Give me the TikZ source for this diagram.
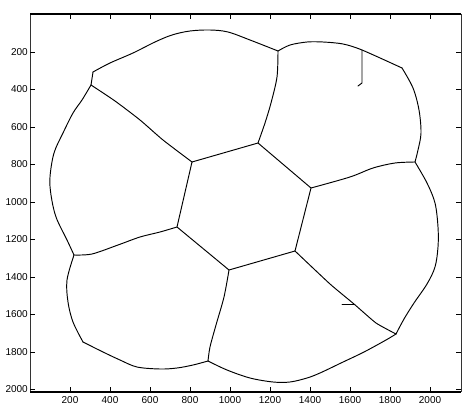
\documentclass[tikz,border=0pt]{standalone}
\usepackage{fontspec}
\setmainfont{Liberation Sans}
\begin{document}
\begin{tikzpicture}[x=1pt,y=-1pt,
  cell/.style={line width=0.95pt,black,line join=round,line cap=round},
  axthick/.style={line width=1.8pt,black},
  axthin/.style={line width=0.8pt,black!80},
  tickmark/.style={line width=0.8pt,black},
  ticklab/.style={font=\fontsize{10}{10}\selectfont,inner sep=0pt}]
\useasboundingbox[fill=white] (0,0) rectangle (474,414);
% axes box
\coordinate (TL) at (30,14);
\coordinate (TR) at (461,14);
\coordinate (BL) at (30,392);
\coordinate (BR) at (461,392);
\draw[axthin] (TL) -- (BL);
\draw[axthin] (TR) -- (BR);
\draw[axthick] (TL) -- (TR);
\draw[axthick] (BL) -- (BR);
% x ticks and labels
\foreach \k in {1,...,10}{
  \pgfmathsetmacro{\xx}{30+40*\k}
  \pgfmathtruncatemacro{\lab}{200*\k}
  \draw[tickmark] (\xx,14) -- (\xx,19);
  \draw[tickmark] (\xx,392) -- (\xx,387);
  \node[ticklab,anchor=north] (xl\k) at (\xx,396) {\lab};
}
% y ticks and labels
\foreach \k in {1,...,10}{
  \pgfmathsetmacro{\yy}{14.5+37.5*\k}
  \pgfmathtruncatemacro{\lab}{200*\k}
  \draw[tickmark] (30,\yy) -- (35,\yy);
  \draw[tickmark] (461,\yy) -- (456,\yy);
  \node[ticklab,anchor=east] (yl\k) at (28,\yy) {\lab};
}
% junctions
\coordinate (A) at (93,72);
\coordinate (Ap) at (91,85);
\coordinate (B) at (278,51);
\coordinate (K) at (402,68);
\coordinate (D) at (415,162);
\coordinate (F) at (396,334);
\coordinate (G) at (208,361);
\coordinate (I) at (74,255);
\coordinate (J) at (83,342);
\coordinate (H1) at (192,162);
\coordinate (H2) at (258,143);
\coordinate (H3) at (311,188);
\coordinate (H4) at (295,251);
\coordinate (H5) at (229,270);
\coordinate (H6) at (177,227);
\coordinate (S1) at (362,50);
\coordinate (S2) at (362,83);
\coordinate (S3) at (358,86);
\coordinate (S4) at (342,304);
\coordinate (S5) at (354,304);
% hexagon
\draw[cell] (H1) -- (H2) -- (H3) -- (H4) -- (H5) -- (H6) -- cycle;
% edges
\draw[cell] plot[smooth,tension=0.55] coordinates {(A) (110,63) (133,53) (155,42) (172,35) (190,31) (210,30) (228,32) (250,40) (B)};
\draw[cell] (A) -- (Ap);
\draw[cell] plot[smooth,tension=0.55] coordinates {(Ap) (82,100) (73,113) (63,133) (54,153) (50,177) (51,195) (56,217) (67,240) (I)};
\draw[cell] plot[smooth,tension=0.4] coordinates {(Ap) (115,101) (140,120) (163,140) (H1)};
\draw[cell] plot[smooth,tension=0.5] coordinates {(B) (277,77) (271,103) (265,123) (H2)};
\draw[cell] plot[smooth,tension=0.5] coordinates {(B) (290,45) (307,42) (323,42) (343,44) (S1) (K)};
\draw[cell] plot[smooth,tension=0.55] coordinates {(K) (413,88) (419,110) (421,133) (418,150) (D)};
\draw[cell] (S1) -- (S2) -- (S3);
\draw[cell] plot[smooth,tension=0.5] coordinates {(D) (395,163) (373,168) (350,177) (H3)};
\draw[cell] plot[smooth,tension=0.55] coordinates {(D) (427,183) (435,203) (438,227) (438,247) (435,267) (427,284) (414,303) (404,319) (F)};
\draw[cell] plot[smooth,tension=0.3] coordinates {(F) (376,323) (354,304) (330,284) (H4)};
\draw[cell] (S4) -- (S5);
\draw[cell] plot[smooth,tension=0.55] coordinates {(F) (386,340) (364,352) (341,363) (320,373) (307,378) (290,382) (273,382) (250,378) (227,370) (G)};
\draw[cell] plot[smooth,tension=0.5] coordinates {(H5) (224,297) (216,325) (210,347) (G)};
\draw[cell] plot[smooth,tension=0.55] coordinates {(G) (193,365) (177,368) (160,369) (137,367) (120,360) (103,352) (J)};
\draw[cell] plot[smooth,tension=0.55] coordinates {(J) (73,322) (68,302) (67,280) (I)};
\draw[cell] plot[smooth,tension=0.5] coordinates {(I) (92,254) (118,245) (140,237) (160,232) (H6)};
\end{tikzpicture}
\end{document}
